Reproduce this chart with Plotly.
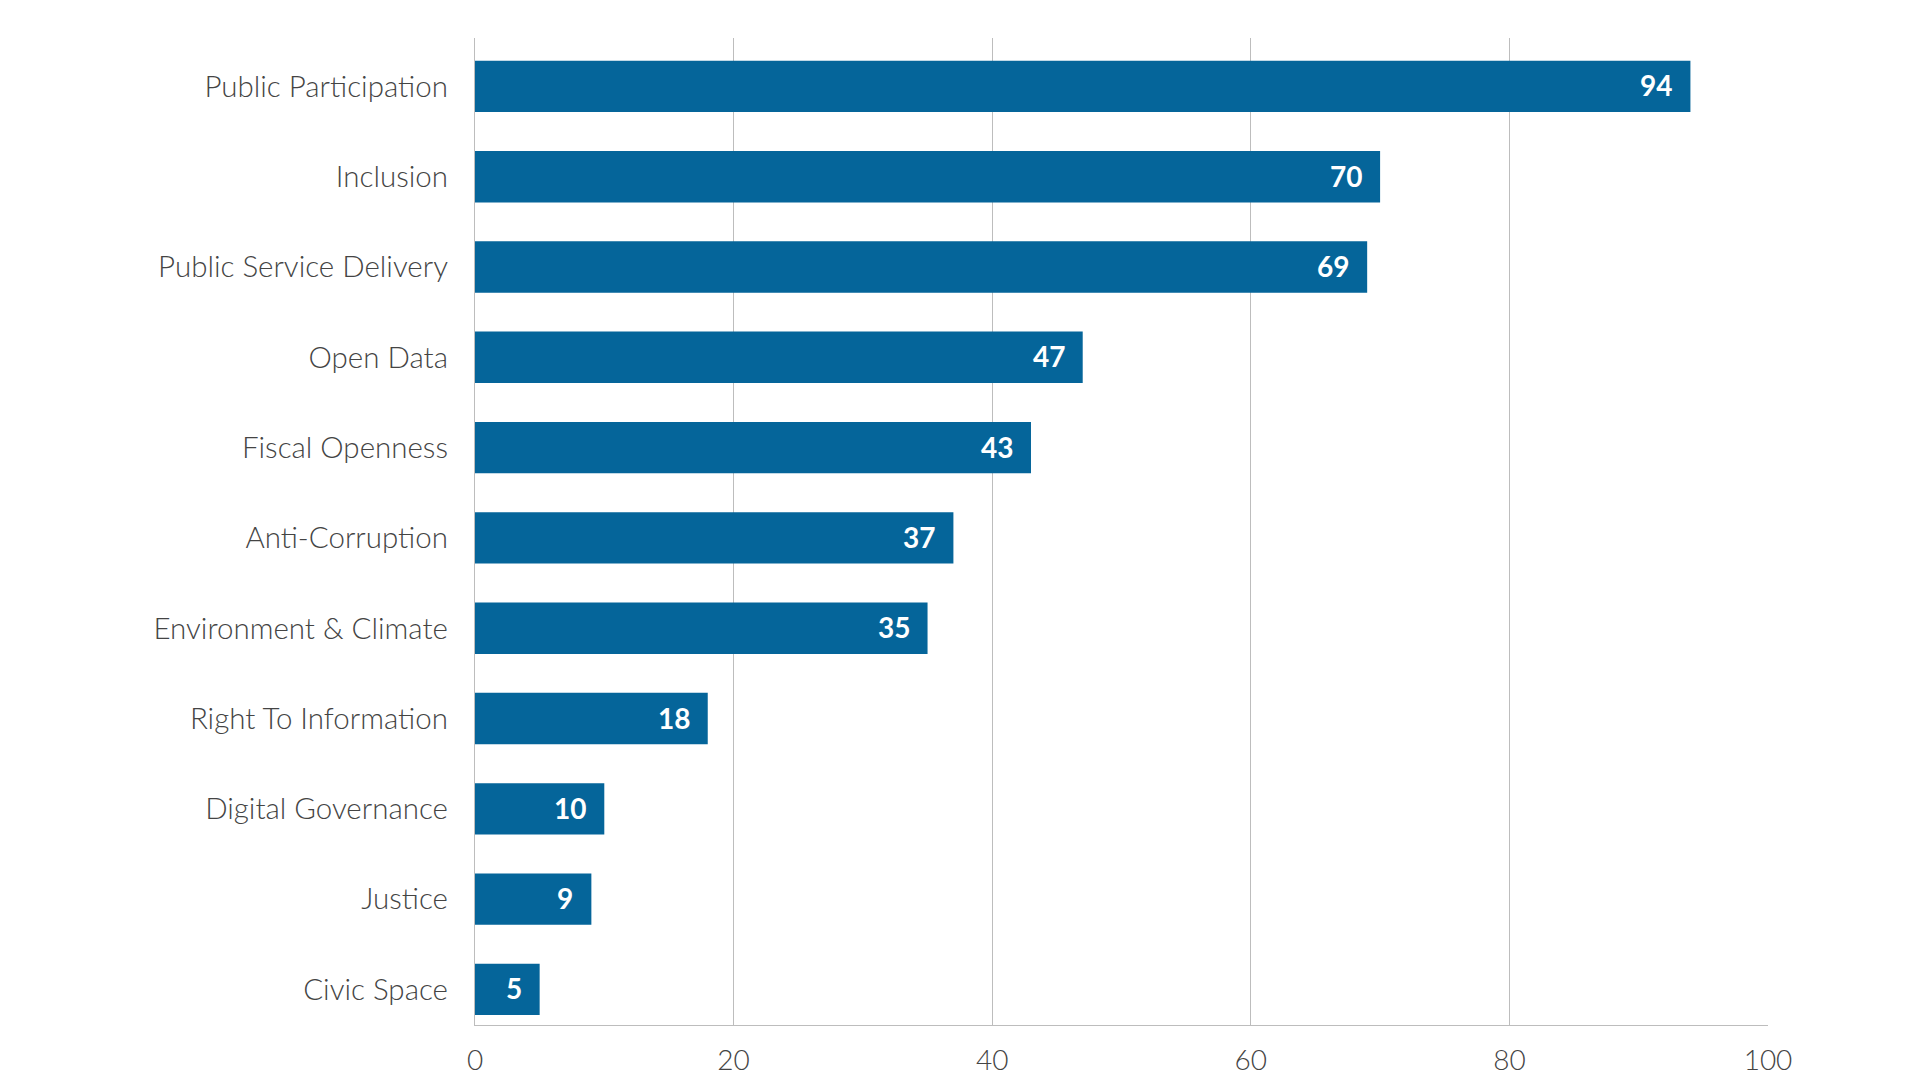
import plotly.graph_objs as go

categories = [
    "Public Participation", "Inclusion", "Public Service Delivery", "Open Data",
    "Fiscal Openness", "Anti-Corruption", "Environment & Climate",
    "Right To Information", "Digital Governance", "Justice", "Civic Space",
]
counts = [94, 70, 69, 47, 43, 37, 35, 18, 10, 9, 5]
x_ticks = [0, 20, 40, 60, 80, 100]

bar_color = "#05659a"
grid_color = "#bdbdbd"

fig = go.Figure(go.Bar(
    x=counts, y=categories, orientation="h",
    marker=dict(color=bar_color, line=dict(width=0)),
    width=0.569, hoverinfo="x+y",
))

# value labels sit inside the bar end
for cat, val in zip(categories, counts):
    fig.add_annotation(
        x=val, y=cat, text="<b>%d</b>" % val, showarrow=False,
        xanchor="right", xshift=-16, yshift=1,
        font=dict(family="Lato", size=28, color="white"),
    )

fig.update_layout(
    width=1920, height=1080,
    margin=dict(l=467, r=160, t=30, b=51),
    paper_bgcolor="white", plot_bgcolor="white",
    showlegend=False,
)
fig.update_xaxes(
    range=[0, 100], tickvals=x_ticks, ticktext=[str(v) for v in x_ticks],
    showgrid=True, gridcolor=grid_color, gridwidth=1.3,
    zeroline=False, showline=True, linecolor=grid_color, linewidth=1.3,
    ticks="", ticklabelstandoff=10,
    tickfont=dict(family="Lato", size=28, color="#444444", weight=300),
    fixedrange=True,
)
fig.update_yaxes(
    categoryorder="array", categoryarray=categories,
    range=[10.394, -0.536],
    showgrid=False, zeroline=False, showline=True, linecolor=grid_color,
    linewidth=1.3, ticks="", ticklabelstandoff=20,
    tickfont=dict(family="Lato", size=29.5, color="#444444", weight=300),
    fixedrange=True,
)

fig.write_html("out.html")
